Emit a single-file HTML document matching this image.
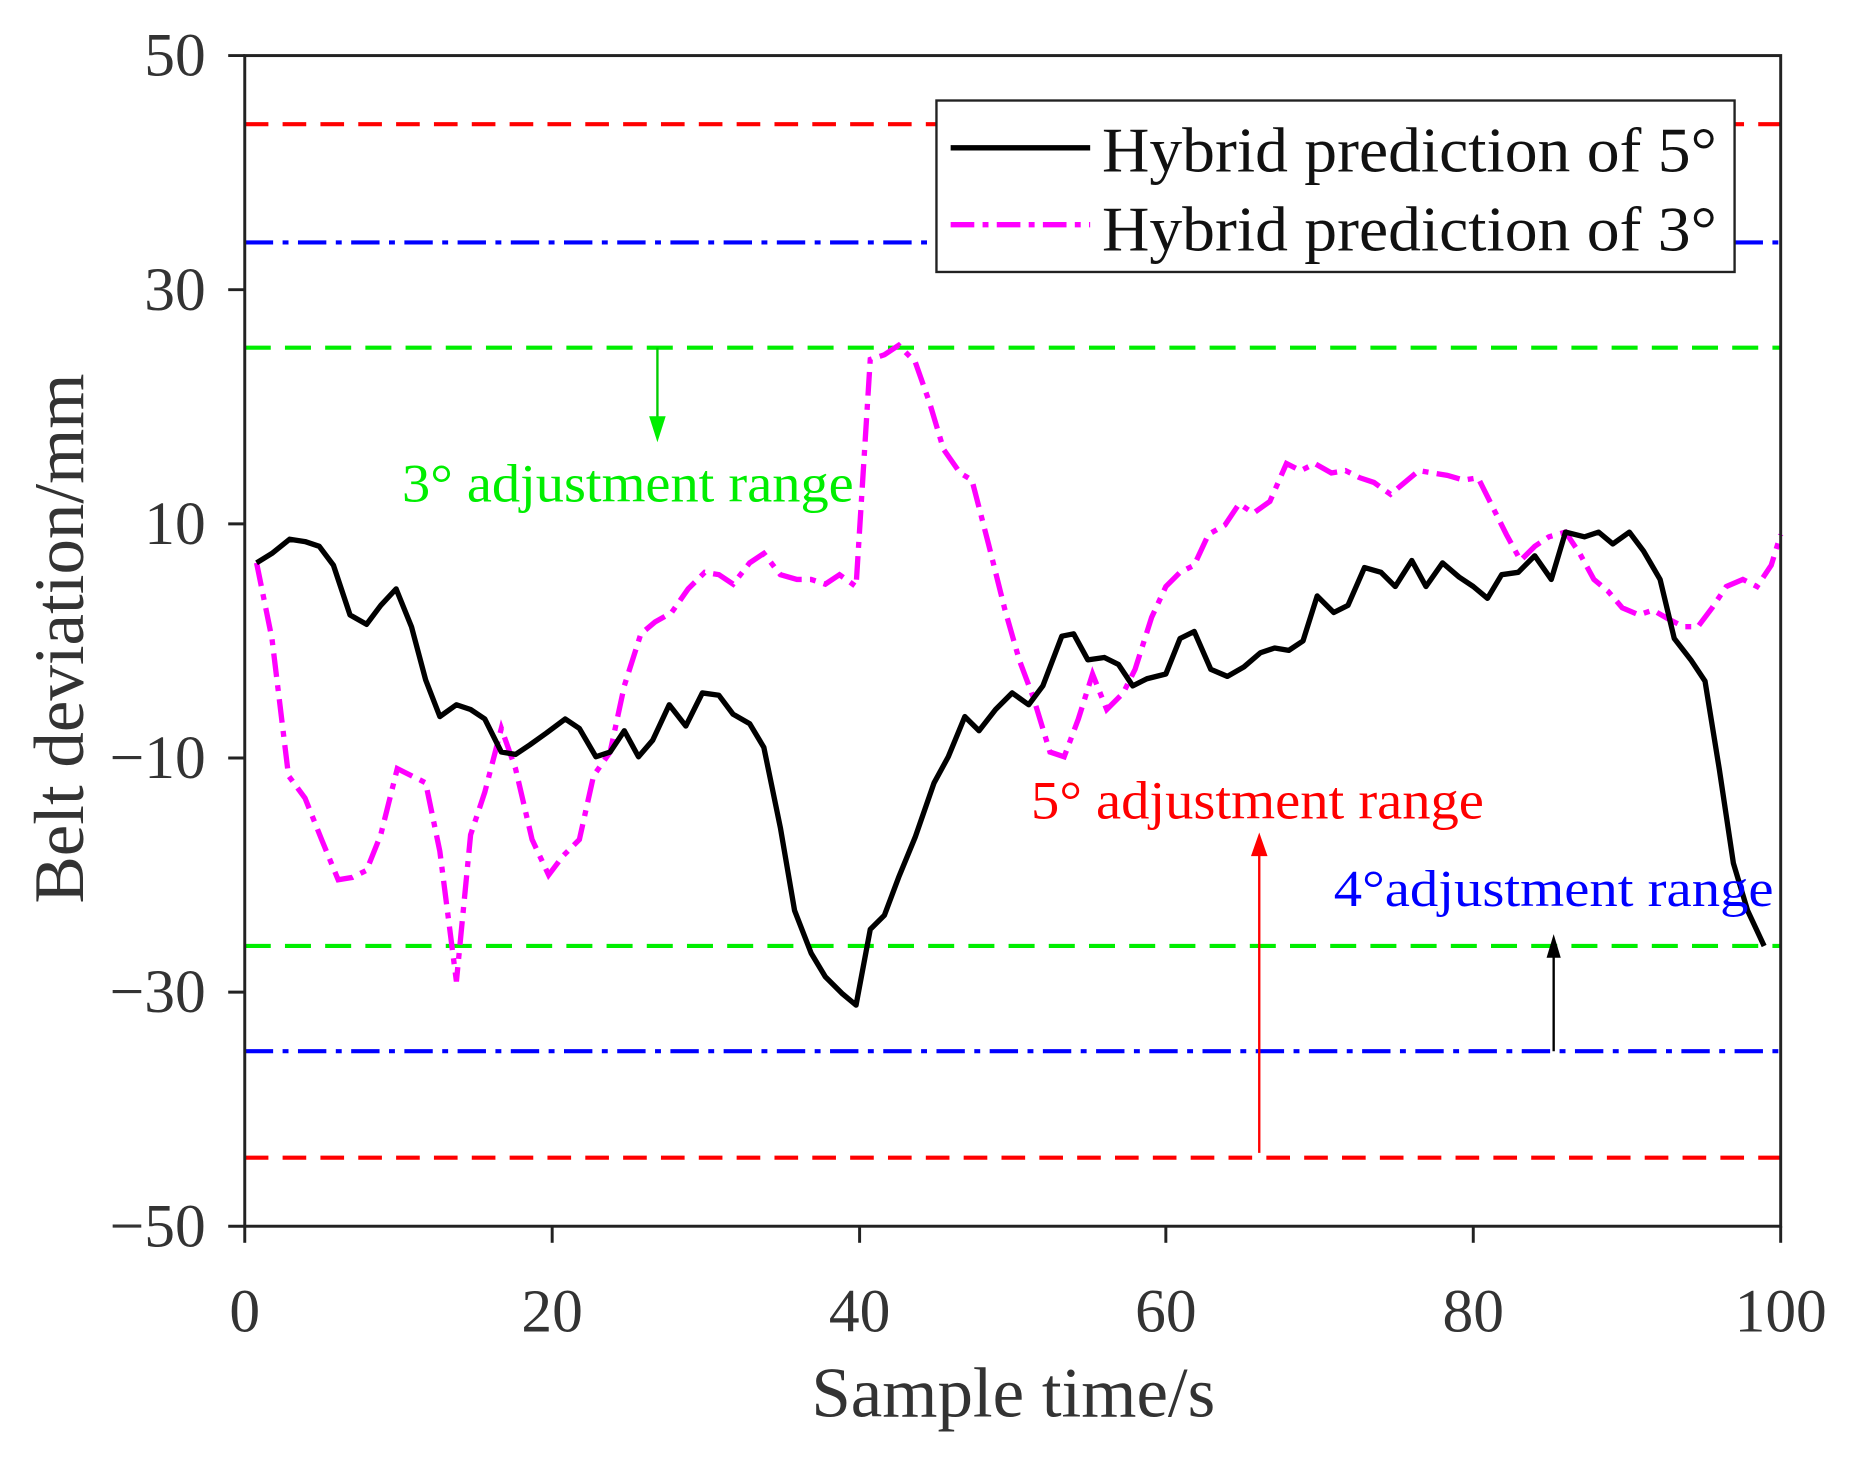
<!DOCTYPE html>
<html><head><meta charset="utf-8"><style>
html,body{margin:0;padding:0;background:#fff;}
svg{display:block;}
text{font-family:"Liberation Serif",serif;}
</style></head><body>
<svg width="1854" height="1458" viewBox="0 0 1568 1233" preserveAspectRatio="none" xmlns="http://www.w3.org/2000/svg">
<rect width="1568" height="1233" fill="#fff"/>
<g stroke-width="3.5" fill="none">
<line x1="207" y1="105" x2="1506" y2="105" stroke="#ff0000" stroke-dasharray="20,12"/>
<line x1="207" y1="979" x2="1506" y2="979" stroke="#ff0000" stroke-dasharray="20,12"/>
<line x1="207" y1="205" x2="1506" y2="205" stroke="#0000ff" stroke-dasharray="24,8,5,8"/>
<line x1="207" y1="889" x2="1506" y2="889" stroke="#0000ff" stroke-dasharray="24,8,5,8"/>
<line x1="207" y1="294" x2="1506" y2="294" stroke="#00ee00" stroke-dasharray="22,12"/>
<line x1="207" y1="800" x2="1506" y2="800" stroke="#00ee00" stroke-dasharray="22,12"/>
</g>
<polyline fill="none" stroke="#ff00ff" stroke-width="4.5" stroke-dasharray="20,7,5,7" points="217,476 230,540 244,656 258,675 272,710 286,744 298,742 310,736 322,706 336,650 348,656 360,662 372,720 386,830 398,706 410,670 424,616 436,650 450,710 464,740 476,724 490,710 502,656 516,636 528,580 542,536 554,526 568,518 582,498 596,484 608,486 620,494 634,476 646,468 660,486 674,490 686,490 698,494 710,486 724,496 736,304 748,300 760,292 774,306 786,340 798,380 812,400 822,406 836,460 850,516 862,558 874,590 888,636 900,640 912,608 924,570 936,600 950,586 960,566 974,522 986,496 998,484 1010,478 1022,452 1036,444 1048,426 1060,434 1074,424 1088,392 1100,398 1112,392 1126,400 1138,398 1150,404 1162,408 1176,418 1188,408 1200,398 1212,400 1224,402 1238,406 1250,404 1262,428 1274,452 1286,474 1298,462 1310,454 1324,450 1336,468 1348,490 1360,500 1372,514 1386,520 1398,516 1412,524 1424,530 1436,530 1448,514 1460,496 1474,490 1486,496 1498,478 1506,452"/>
<polyline fill="none" stroke="#000" stroke-width="4.5" stroke-linejoin="round" points="217,476 230,468 245,456 258,458 270,462 282,478 296,520 310,528 322,512 335,498 348,530 360,575 372,606 386,596 398,600 410,608 424,636 436,638 448,630 462,620 478,608 490,616 504,640 516,636 528,618 540,640 552,626 566,596 580,614 594,586 608,588 620,604 634,612 646,632 660,700 672,770 686,806 698,826 712,840 724,850 736,786 748,774 760,742 774,708 790,662 802,640 816,606 828,618 842,600 856,586 870,596 882,580 898,538 908,536 920,558 934,556 946,562 958,580 970,574 986,570 998,540 1010,534 1024,566 1038,572 1052,564 1066,552 1078,548 1090,550 1102,542 1114,504 1128,518 1140,512 1154,480 1168,484 1180,496 1194,474 1206,496 1220,476 1234,488 1246,496 1258,506 1270,486 1284,484 1298,470 1312,490 1324,450 1340,454 1352,450 1364,460 1378,450 1390,466 1404,490 1416,540 1430,558 1442,576 1454,650 1466,730 1478,770 1492,800"/>
<rect x="792" y="85" width="675" height="145" fill="#fff" stroke="#222" stroke-width="2"/>
<line x1="804" y1="125" x2="922" y2="125" stroke="#000" stroke-width="4.5"/>
<line x1="804" y1="190" x2="922" y2="190" stroke="#ff00ff" stroke-width="4.5" stroke-dasharray="20,7,5,7"/>
<text x="932" y="145" font-size="54" fill="#111" textLength="520" lengthAdjust="spacingAndGlyphs">Hybrid prediction of 5°</text>
<text x="932" y="212" font-size="54" fill="#111" textLength="520" lengthAdjust="spacingAndGlyphs">Hybrid prediction of 3°</text>
<text x="340" y="424" font-size="46" fill="#00ee00" textLength="382" lengthAdjust="spacingAndGlyphs">3° adjustment range</text>
<line x1="556" y1="294" x2="556" y2="360" stroke="#00cc00" stroke-width="2"/>
<polygon points="549,352 563,352 556,374" fill="#00ee00"/>
<text x="872" y="692" font-size="46" fill="#ff0000" textLength="383" lengthAdjust="spacingAndGlyphs">5° adjustment range</text>
<line x1="1065" y1="975" x2="1065" y2="720" stroke="#ff0000" stroke-width="2"/>
<polygon points="1058,724 1072,724 1065,704" fill="#ff0000"/>
<text x="1128" y="766" font-size="44" fill="#0000ff" textLength="372" lengthAdjust="spacingAndGlyphs">4°adjustment range</text>
<line x1="1314" y1="889" x2="1314" y2="805" stroke="#000" stroke-width="2"/>
<polygon points="1308,810 1320,810 1314,790" fill="#000"/>
<rect x="207" y="47" width="1299" height="990" fill="none" stroke="#222" stroke-width="2.5"/>
<g stroke="#222" stroke-width="2.5">
<line x1="193" y1="47" x2="207" y2="47"/><line x1="193" y1="245" x2="207" y2="245"/><line x1="193" y1="443" x2="207" y2="443"/><line x1="193" y1="641" x2="207" y2="641"/><line x1="193" y1="839" x2="207" y2="839"/><line x1="193" y1="1037" x2="207" y2="1037"/>
<line x1="207" y1="1037" x2="207" y2="1051"/><line x1="467" y1="1037" x2="467" y2="1051"/><line x1="727" y1="1037" x2="727" y2="1051"/><line x1="986" y1="1037" x2="986" y2="1051"/><line x1="1246" y1="1037" x2="1246" y2="1051"/><line x1="1506" y1="1037" x2="1506" y2="1051"/>
</g>
<g font-size="52" fill="#333" text-anchor="end">
<text x="174" y="64">50</text><text x="174" y="262">30</text><text x="174" y="460">10</text><text x="174" y="658">−10</text><text x="174" y="856">−30</text><text x="174" y="1054">−50</text>
</g>
<g font-size="52" fill="#333" text-anchor="middle">
<text x="207" y="1126">0</text><text x="467" y="1126">20</text><text x="727" y="1126">40</text><text x="986" y="1126">60</text><text x="1246" y="1126">80</text><text x="1506" y="1126">100</text>
</g>
<text x="857" y="1198" font-size="60" fill="#333" text-anchor="middle">Sample time/s</text>
<text transform="translate(70,540) rotate(-90)" font-size="60" fill="#333" text-anchor="middle">Belt deviation/mm</text>
</svg>
</body></html>
